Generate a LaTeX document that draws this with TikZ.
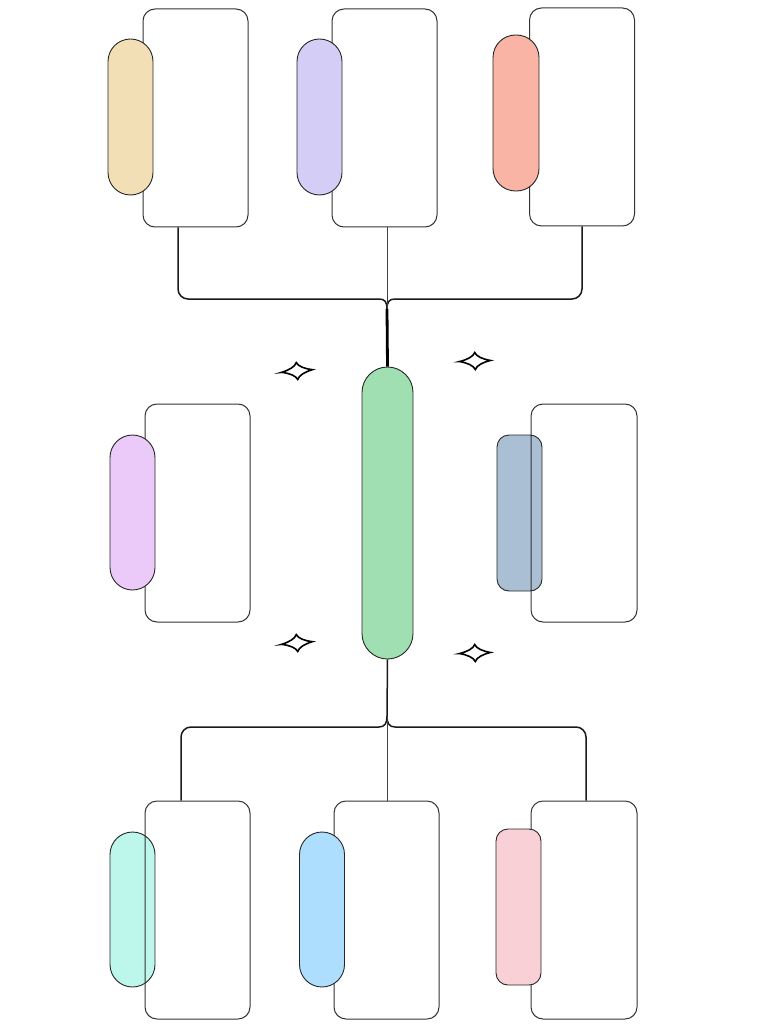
\documentclass[tikz,border=0pt]{standalone}
\usepackage{tikz}
\usetikzlibrary{positioning,calc}

\definecolor{tanpill}{HTML}{F3DFB5}
\definecolor{lavpill}{HTML}{D4CEF7}
\definecolor{salpill}{HTML}{F9B4A6}
\definecolor{lilpill}{HTML}{EBCAFA}
\definecolor{hubgreen}{HTML}{A0DFB1}
\definecolor{slatepill}{HTML}{ABBFD4}
\definecolor{mintpill}{HTML}{BDF7EC}
\definecolor{skypill}{HTML}{AEDEFE}
\definecolor{pinkpill}{HTML}{F8D0D5}

\begin{document}
\begin{tikzpicture}[x=1pt, y=-1pt,
                card/.style={draw=black!80, line width=1pt, rounded corners=12pt,
                             minimum width=105pt, minimum height=218pt, inner sep=0pt},
                pill/.style={draw=black!85, line width=0.9pt, rounded corners=22.5pt,
                             minimum width=45pt, minimum height=156pt, inner sep=0pt},
                tab/.style={pill, rounded corners=12pt},
                link/.style={draw=black!90, line width=1.5pt, rounded corners=10pt},
                curl/.style={draw=black!90, line width=1.5pt},
                stem/.style={draw=black!75, line width=0.8pt},
                sparkle/.pic={\draw[line width=1.6pt, line join=miter]
                    (-15.5,0) .. controls (-8,-1.5) and (-1.5,-4.5) .. (0,-8.5)
                    .. controls (1.5,-4.5) and (8,-1.5) .. (15.5,0)
                    .. controls (8,1.5) and (1.5,4.5) .. (0,8.5)
                    .. controls (-1.5,4.5) and (-8,1.5) .. cycle;}]

\useasboundingbox (0,0) rectangle (768,1024);

% top row
\node[card] (b1) at (195.5,118) {};
\node[pill, fill=tanpill] (p1) at (130.5,117) {};
\node[card] (b2) at (384.5,118) {};
\node[pill, fill=lavpill] (p2) at (319.5,117) {};
\node[card] (b3) at (582,117) {};
\node[pill, fill=salpill, minimum width=46pt] (p3) at (516,113) {};

% middle row
\node[card] (b4) at (197.5,513) {};
\node[pill, fill=lilpill, minimum height=155pt] (p4) at (132.5,512.5) {};
\node[pill, fill=hubgreen, minimum width=51pt, minimum height=292pt,
      rounded corners=25.5pt] (hub) at (387.5,513) {};
\node[tab, fill=slatepill] (p5) at (519.5,513) {};
\node[card, minimum width=106pt] (b5) at (584,513) {};

% bottom row
\node[pill, fill=mintpill, minimum height=155pt] (p6) at (132.5,909.5) {};
\node[card] (b6) at (197.5,910) {};
\node[card] (b7) at (386.5,910) {};
\node[pill, fill=skypill, minimum height=155pt] (p7) at (322,909.5) {};
\node[card, minimum width=106pt] (b8) at (584,910) {};
\node[tab, fill=pinkpill] (p8) at (518.5,907) {};

% upper brace
\coordinate (jtop) at (387,309);
\coordinate (jtl) at (379,299);
\coordinate (jtr) at (395,299);
\draw[link] ([xshift=-17.5pt]b1.south) |- (jtl);
\draw[link] (b3.south) |- (jtr);
\draw[curl] (jtl) .. controls +(6,0) and +(0,-7) .. (jtop);
\draw[curl] (jtr) .. controls +(-6,0) and +(0,-7) .. (jtop);
\draw[stem] (b2.south -| jtop) -- (jtop);
\draw[line width=2.8pt] (jtop) -- (hub.north);

% lower brace
\coordinate (jbot) at (387,716);
\coordinate (jbl) at (379,727);
\coordinate (jbr) at (395,727);
\draw[curl] (hub.south) -- (jbot);
\draw[curl] (jbot) .. controls +(0,7) and +(6,0) .. (jbl);
\draw[curl] (jbot) .. controls +(0,7) and +(-6,0) .. (jbr);
\draw[link] (jbl) -| ([xshift=-16.5pt]b6.north);
\draw[link] (jbr) -| ([xshift=2pt]b8.north);
\draw[stem] (jbot) -- (b7.north -| jbot);

% sparkles
\pic[rotate=5] at (297,371) {sparkle};
\pic[rotate=2] at (475,361) {sparkle};
\pic[rotate=5] at (297,643) {sparkle};
\pic[rotate=2] at (475,653) {sparkle};

\end{tikzpicture}
\end{document}
